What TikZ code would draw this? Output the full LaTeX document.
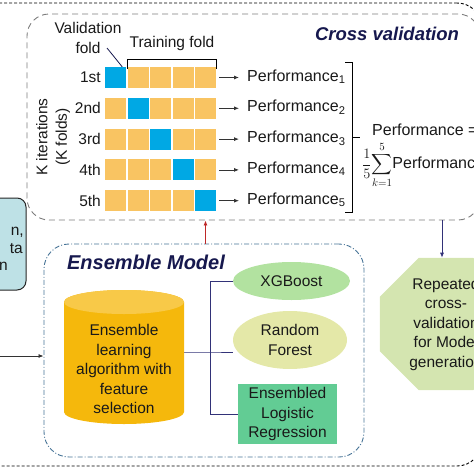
\documentclass[tikz,border=0pt]{standalone}
\usepackage{amsmath}
\usepackage{exscale}
\usepackage{fontspec}
\setmainfont{Liberation Sans}
\usetikzlibrary{shapes.geometric,arrows.meta,backgrounds}

\definecolor{foldorange}{RGB}{249,196,98}
\definecolor{foldblue}{RGB}{0,168,228}
\definecolor{navytxt}{RGB}{22,24,78}
\definecolor{cvgray}{RGB}{125,125,125}
\definecolor{ensblue}{RGB}{70,115,150}
\definecolor{datacyan}{RGB}{190,225,230}
\definecolor{cylbody}{RGB}{245,184,12}
\definecolor{cyltop}{RGB}{248,201,72}
\definecolor{xgbgreen}{RGB}{178,226,160}
\definecolor{rfyellow}{RGB}{228,232,168}
\definecolor{lrgreen}{RGB}{98,204,148}
\definecolor{octgreen}{RGB}{212,229,176}
\definecolor{linknavy}{RGB}{50,50,120}
\definecolor{uparrow}{RGB}{190,40,40}

\tikzset{
  txt/.style={font=\fontsize{15.5}{19.5}\selectfont, text=black!90, inner sep=0pt, align=center},
  cell/.style={rectangle, fill=foldorange, minimum size=21pt, inner sep=0pt},
  valcell/.style={cell, fill=foldblue},
  perf/.style={txt, anchor=west, font=\fontsize{16}{19}\selectfont, text height=11pt, text depth=4pt},
  title/.style={font=\fontsize{18.5}{22}\selectfont\bfseries\itshape, text=navytxt, inner sep=0pt},
  arr/.style={-{Latex[length=5pt,width=4pt]}, line width=0.8pt, draw=black!80},
  link/.style={line width=1pt, draw=linknavy},
  outerbox/.style={rectangle, rounded corners=25pt, draw=black, dash pattern=on 3pt off 2pt, line width=0.9pt, inner sep=0pt},
  cvbox/.style={rectangle, rounded corners=22pt, draw=cvgray, dash pattern=on 6pt off 4pt, line width=0.9pt, inner sep=0pt},
  ensbox/.style={rectangle, rounded corners=25pt, draw=ensblue, dash pattern=on 5pt off 2pt on 1pt off 2pt, line width=0.9pt, inner sep=0pt},
  databox/.style={rectangle, rounded corners=9pt, draw=black!85, fill=datacyan, line width=1pt, inner sep=0pt},
  model/.style={txt, ellipse, inner sep=0pt}
}

\begin{document}
\begin{tikzpicture}[x=1pt, y=-1pt]
\useasboundingbox (0,0) rectangle (474,474);

% Rahmen
\node[outerbox, minimum width=512pt, minimum height=463pt] (outer) at (226,234.5) {};
\node[cvbox, minimum width=453pt, minimum height=206pt] (cv) at (253.5,117) {};
\node[ensbox, minimum width=320pt, minimum height=213pt] (ens) at (204,350.5) {};
\node[databox, minimum width=100pt, minimum height=92pt] (data) at (-24,244) {};

% Cross validation
\node[title] (cvtitle) at (387,34) {Cross validation};
\node[txt] (vfold) at (88,38) {Validation\\fold};
\node[txt] (tfold) at (172,43) {Training fold};
\node[txt, rotate=90] (kiter) at (53,137) {K iterations\\(K folds)};

\foreach \i in {1,...,5}{
  \foreach \j in {1,...,5}{
    \ifnum\i=\j \def\cellstyle{valcell}\else \def\cellstyle{cell}\fi
    \node[\cellstyle] (c-\i-\j) at ({115.5+22.5*(\j-1)},{77.5+30.8*(\i-1)}) {};
  }
}

\foreach \i/\lab in {1/1st,2/2nd,3/3rd,4/4th,5/5th}{
  \node[txt, anchor=east] (r-\i) at (101,{77.5+30.8*(\i-1)}) {\lab};
  \node[perf] (p-\i) at (247,{77.5+30.8*(\i-1)}) {Performance\textsubscript{\i}};
  \draw[arr, shorten <=3pt, shorten >=8pt] (c-\i-5.east) -- (p-\i.west);
}

% Klammern
\coordinate (vtip) at (107,48);
\draw[line width=0.8pt, draw=navytxt] (vtip) -- ([xshift=-4pt]c-1-1.north east);
\draw[line width=0.9pt] ([yshift=-2pt]c-1-2.north west) -- ++(0,-9) -| ([yshift=-2pt]c-1-5.north east);
\draw[line width=0.9pt] (345,62) -- (352,62) -- (352,212) -- (345,212);
\draw[line width=0.9pt] (352,137) -- (360,137);

\node[perf] (perfeq) at (372,132) {Performance =};
\node[txt, anchor=west, font=\fontsize{16}{19}\selectfont] (perfavg) at (362,165)
  {{\fontsize{15}{18}\selectfont$\displaystyle\frac{1}{5}\!\sum_{k=1}^{5}$}Performance};

% Daten
\node[txt, anchor=east] (d-1) at (24,232) {n,};
\node[txt, anchor=east] (d-2) at (23,249) {ta};
\node[txt, anchor=east] (d-3) at (8,266) {n};
\coordinate (in) at (-10,356);
\draw[arr] (in) -- (ens.west |- in);

% Ensemble Model
\node[title, font=\fontsize{20}{24}\selectfont\bfseries\itshape] (enstitle) at (146,262) {Ensemble Model};
\fill[cylbody] (64,302) -- (64,412) arc[start angle=180, end angle=360, x radius=60pt, y radius=12pt]
  -- (184,302) arc[start angle=0, end angle=180, x radius=60pt, y radius=12pt] -- cycle;
\fill[cyltop] (124,302) ellipse[x radius=60pt, y radius=12pt];
\node[txt] (algo) at (124,369) {Ensemble\\learning\\algorithm with\\feature\\selection};

\node[model, fill=xgbgreen, minimum width=117pt, minimum height=38pt] (xgb) at (291.5,281) {XGBoost};
\node[model, fill=rfyellow, minimum width=114pt, minimum height=58pt] (rf) at (290,340) {Random\\Forest};
\node[txt, rectangle, fill=lrgreen, minimum width=99pt, minimum height=60pt] (lr) at (287.5,414) {Ensembled\\Logistic\\Regression};

\coordinate (split) at (210,352);
\begin{scope}[on background layer]
\draw[link] (184,352) -- (split) -- (split -| rf.west);
\draw[link] (split |- xgb.west) -- (xgb.west);
\draw[link] (split |- xgb.west) -- (split |- lr.west) -- (lr.west);
\end{scope}

% Wiederholung
\node[txt, regular polygon, regular polygon sides=8, fill=octgreen, minimum size=143pt] (rep) at (446,324)
  {Repeated\\cross-\\validation\\for Model\\generation};

\draw[arr, draw=uparrow] (ens.north -| c-5-5) -- (cv.south -| c-5-5);
\draw[arr, draw=linknavy] (cv.south -| 442,0) -- (rep.north -| 442,0);

\end{tikzpicture}
\end{document}
